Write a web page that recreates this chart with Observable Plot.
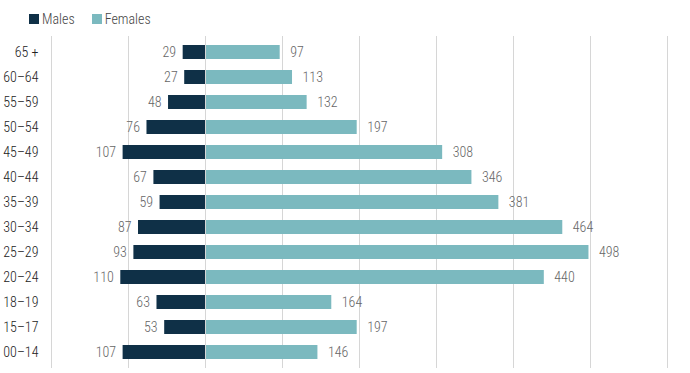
<!DOCTYPE html>
<html>
<head>
<meta charset="utf-8">
<script src="https://cdn.jsdelivr.net/npm/d3@7"></script>
<script src="https://cdn.jsdelivr.net/npm/@observablehq/plot@0.6"></script>
<style>
  body { margin: 0; background: #fff; font-family: "Roboto Condensed", Roboto, sans-serif; }
  #legend { height: 30px; display: flex; align-items: center; padding-left: 29px; padding-top: 7px; box-sizing: border-box; font-size: 14px; color: #444; font-weight: 300; }
  #legend span.sw { display: inline-block; width: 10px; height: 10px; margin-right: 3px; }
  #legend span.item { display: inline-flex; align-items: center; margin-right: 17px; }
  #chart svg { display: block; }
</style>
</head>
<body>
<div id="legend"></div>
<div id="chart"></div>
<script>
const ageGroups = ["65 +", "60–64", "55–59", "50–54", "45–49", "40–44", "35–39", "30–34", "25–29", "20–24", "18–19", "15–17", "00–14"];
const males   = [29, 27, 48, 76, 107, 67, 59, 87, 93, 110, 63, 53, 107];
const females = [97, 113, 132, 197, 308, 346, 381, 464, 498, 440, 164, 197, 146];
const seriesNames = ["Males", "Females"];
const seriesColors = ["#0f3047", "#7bb9bf"];
const gridTicks = [-200, -100, 0, 100, 200, 300, 400, 500, 600];

const rows = [];
ageGroups.forEach((g, i) => {
  rows.push({age: g, sex: "Males", value: males[i], signed: -males[i]});
  rows.push({age: g, sex: "Females", value: females[i], signed: females[i]});
});
const maleRows = rows.filter(d => d.sex === "Males");
const femaleRows = rows.filter(d => d.sex === "Females");

const legend = document.getElementById("legend");
seriesNames.forEach((n, i) => {
  const it = document.createElement("span");
  it.className = "item";
  it.innerHTML = `<span class="sw" style="background:${seriesColors[i]}"></span>${n}`;
  legend.appendChild(it);
});

const chart = Plot.plot({
  width: 690,
  height: 343,
  marginLeft: 51,
  marginRight: 23,
  marginTop: 2,
  marginBottom: 1,
  style: {fontFamily: "'Roboto Condensed', Roboto, sans-serif", fontSize: "14px", background: "#fff"},
  x: {domain: [-200, 600], axis: null},
  y: {domain: ageGroups, padding: 0.45, label: null, tickSize: 0, tickPadding: 13},
  color: {domain: seriesNames, range: seriesColors},
  marks: [
    Plot.ruleX(gridTicks, {stroke: "#d6d6d6", strokeWidth: 1, insetTop: 4, insetBottom: 4}),
    Plot.axisY({tickSize: 0, tickPadding: 13, fontSize: 14, fontWeight: 300, color: "#222", label: null}),
    Plot.barX(rows, {x1: 0, x2: "signed", y: "age", fill: "sex"}),
    Plot.ruleX([0], {stroke: "#d6d6d6", strokeWidth: 1, insetTop: 4, insetBottom: 4}),
    Plot.text(maleRows, {x: "signed", y: "age", text: d => String(d.value), textAnchor: "end", dx: -7, fill: "#666", fontSize: 14, fontWeight: 300}),
    Plot.text(femaleRows, {x: "signed", y: "age", text: d => String(d.value), textAnchor: "start", dx: 10, fill: "#666", fontSize: 14, fontWeight: 300})
  ]
});
document.getElementById("chart").appendChild(chart);
</script>
</body>
</html>
